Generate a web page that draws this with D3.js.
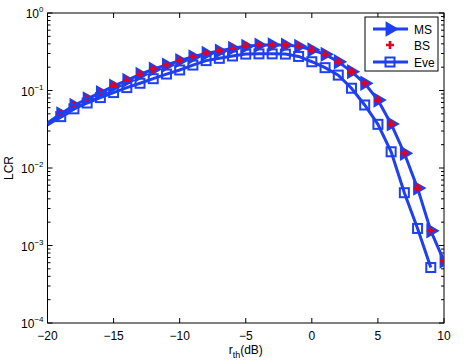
<!DOCTYPE html>
<html>
<head>
<meta charset="UTF-8">
<style>
  body, html { margin: 0; background: #fff; }
  svg { font-family: "Liberation Sans", Arial, sans-serif; }
</style>
<script src="https://d3js.org/d3.v7.min.js"></script>
</head>
<body>
<div id="chart"></div>
<script>
// threshold r_th (dB)
const msX = [-20, -19, -18, -17, -16, -15, -14, -13, -12, -11, -10, -9, -8, -7, -6, -5, -4, -3, -2, -1, 0, 1, 2, 3, 4, 5, 6, 7, 8, 9, 10];
const msY = [0.038, 0.050, 0.064, 0.078, 0.094, 0.114, 0.135, 0.161, 0.188, 0.213, 0.243, 0.272, 0.300, 0.323, 0.350, 0.372, 0.385, 0.388, 0.385, 0.372, 0.335, 0.293, 0.235, 0.175, 0.124, 0.0754, 0.037, 0.0155, 0.0055, 0.00155, 0.00063];
const bsX = msX;
const bsY = [0.038, 0.051, 0.065, 0.079, 0.095, 0.115, 0.136, 0.163, 0.190, 0.213, 0.243, 0.273, 0.302, 0.323, 0.350, 0.375, 0.386, 0.386, 0.386, 0.375, 0.333, 0.293, 0.235, 0.175, 0.124, 0.0754, 0.037, 0.0155, 0.0055, 0.00155, 0.00063];
const eveX = [-20, -19, -18, -17, -16, -15, -14, -13, -12, -11, -10, -9, -8, -7, -6, -5, -4, -3, -2, -1, 0, 1, 2, 3, 4, 5, 6, 7, 8, 9];
const eveY = [0.036, 0.046, 0.058, 0.069, 0.081, 0.094, 0.109, 0.124, 0.142, 0.163, 0.184, 0.213, 0.243, 0.260, 0.279, 0.295, 0.297, 0.297, 0.295, 0.275, 0.235, 0.197, 0.158, 0.107, 0.065, 0.0366, 0.0162, 0.0048, 0.00166, 0.00052];

const xTicks = [-20, -15, -10, -5, 0, 5, 10];
const yExps = [0, -1, -2, -3, -4];
const legendNames = ["MS", "BS", "Eve"];

const W = 474, H = 364;
const m = {left: 47.5, right: 30, top: 13, bottom: 41};
const blue = "#1f3ff2", red = "#e3001b";

const svg = d3.select("#chart").append("svg")
    .attr("width", W).attr("height", H);

const x = d3.scaleLinear().domain([-20, 10]).range([m.left, W - m.right]);
const y = d3.scaleLog().domain([1e-4, 1]).range([H - m.bottom, m.top]);

svg.append("defs").append("clipPath").attr("id", "clip")
  .append("rect")
    .attr("x", x(-20)).attr("y", y(1))
    .attr("width", x(10) - x(-20)).attr("height", y(1e-4) - y(1));

// minor y ticks (2..9 per decade)
const minor = [];
yExps.slice(1).forEach(e => {
  for (let k = 2; k <= 9; k++) minor.push(k * Math.pow(10, e));
});

const ax = svg.append("g").attr("stroke", "#000").attr("stroke-width", 1);
xTicks.forEach(t => {
  ax.append("line").attr("x1", x(t)).attr("x2", x(t)).attr("y1", y(1e-4)).attr("y2", y(1e-4) - 5);
  ax.append("line").attr("x1", x(t)).attr("x2", x(t)).attr("y1", y(1)).attr("y2", y(1) + 5);
});
yExps.forEach(e => {
  const v = Math.pow(10, e);
  ax.append("line").attr("x1", x(-20)).attr("x2", x(-20) + 5).attr("y1", y(v)).attr("y2", y(v));
  ax.append("line").attr("x1", x(10)).attr("x2", x(10) - 5).attr("y1", y(v)).attr("y2", y(v));
});
minor.forEach(v => {
  ax.append("line").attr("x1", x(-20)).attr("x2", x(-20) + 3).attr("y1", y(v)).attr("y2", y(v));
  ax.append("line").attr("x1", x(10)).attr("x2", x(10) - 3).attr("y1", y(v)).attr("y2", y(v));
});
ax.append("rect")
    .attr("x", x(-20)).attr("y", y(1))
    .attr("width", x(10) - x(-20)).attr("height", y(1e-4) - y(1))
    .attr("fill", "none");

// tick labels
svg.append("g").selectAll("text").data(xTicks).join("text")
    .attr("x", d => x(d)).attr("y", y(1e-4) + 17)
    .attr("text-anchor", "middle").attr("font-size", 12)
    .text(d => d < 0 ? "\u2212" + Math.abs(d) : d);

const yl = svg.append("g").selectAll("text").data(yExps).join("text")
    .attr("x", x(-20) - 4).attr("y", d => y(Math.pow(10, d)) + 5)
    .attr("text-anchor", "end").attr("font-size", 12);
yl.append("tspan").text("10");
yl.append("tspan").attr("dy", -6).attr("font-size", 8)
    .text(d => d === 0 ? "0" : "\u2212" + Math.abs(d));

// axis titles
svg.append("text")
    .attr("transform", `translate(13,${(y(1) + y(1e-4)) / 2}) rotate(-90)`)
    .attr("text-anchor", "middle").attr("font-size", 12).text("LCR");
const xt = svg.append("text")
    .attr("x", (x(-20) + x(10)) / 2).attr("y", H - 10)
    .attr("text-anchor", "middle").attr("font-size", 12);
xt.append("tspan").text("r");
xt.append("tspan").attr("dy", 4).attr("font-size", 9).text("th");
xt.append("tspan").attr("dy", -4).text("(dB)");

// series
const plot = svg.append("g").attr("clip-path", "url(#clip)");
const line = d3.line().x(d => x(d[0])).y(d => y(d[1]));
const ms = msX.map((d, i) => [d, msY[i]]);
const bs = bsX.map((d, i) => [d, bsY[i]]);
const eve = eveX.map((d, i) => [d, eveY[i]]);

const tri = d3.symbol().type(d3.symbolTriangle).size(70);
const plus = "M-4,0H4M0,-4V4";

function drawTri(g, px, py) {
  g.append("path").attr("d", tri())
    .attr("transform", `translate(${px},${py}) rotate(90)`)
    .attr("fill", blue).attr("stroke", blue).attr("stroke-width", 1.5);
}
function drawSq(g, px, py) {
  g.append("rect").attr("x", px - 4.5).attr("y", py - 4.5)
    .attr("width", 9).attr("height", 9)
    .attr("fill", "none").attr("stroke", blue).attr("stroke-width", 2);
}
function drawPlus(g, px, py) {
  g.append("path").attr("d", plus)
    .attr("transform", `translate(${px},${py})`)
    .attr("stroke", red).attr("stroke-width", 2.6).attr("fill", "none");
}

plot.append("path").datum(ms).attr("d", line)
    .attr("fill", "none").attr("stroke", blue).attr("stroke-width", 3);
ms.filter(d => d[0] > -20).forEach(d => drawTri(plot, x(d[0]), y(d[1])));
bs.filter(d => d[0] > -20).forEach(d => drawPlus(plot, x(d[0]), y(d[1])));
plot.append("path").datum(eve).attr("d", line)
    .attr("fill", "none").attr("stroke", blue).attr("stroke-width", 3);
eve.filter(d => d[0] > -20).forEach(d => drawSq(plot, x(d[0]), y(d[1])));

// legend
const lg = svg.append("g");
lg.append("rect").attr("x", 365).attr("y", 17).attr("width", 73).attr("height", 54)
    .attr("fill", "#fff").attr("stroke", "#000").attr("stroke-width", 1);
const rows = [29, 45, 62];
legendNames.forEach((name, i) => {
  const ly = rows[i];
  if (i !== 1) {
    lg.append("line").attr("x1", 373).attr("x2", 408).attr("y1", ly).attr("y2", ly)
      .attr("stroke", blue).attr("stroke-width", 3);
  }
  if (i === 0) drawTri(lg, 390, ly);
  if (i === 1) drawPlus(lg, 390, ly);
  if (i === 2) drawSq(lg, 390, ly);
  lg.append("text").attr("x", 414).attr("y", ly + 4.5)
    .attr("font-size", 12).text(name);
});
</script>
</body>
</html>
